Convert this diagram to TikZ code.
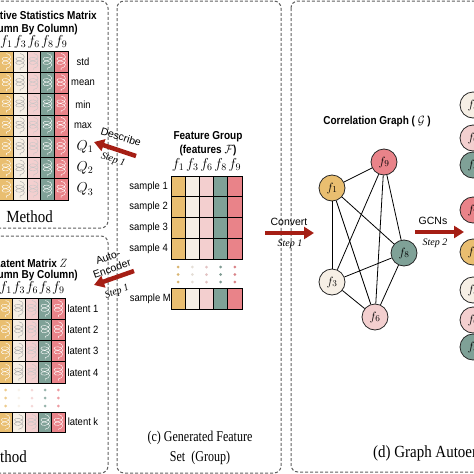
\documentclass[tikz,border=0pt]{standalone}
\usepackage{fontspec}
\setmainfont{Liberation Serif}
\setsansfont{Liberation Sans}
\usetikzlibrary{arrows.meta,decorations.pathmorphing}

\definecolor{fyellow}{RGB}{233,190,112}
\definecolor{fcream}{RGB}{246,239,229}
\definecolor{fpink}{RGB}{243,207,207}
\definecolor{fteal}{RGB}{127,161,151}
\definecolor{fred}{RGB}{233,131,137}
\definecolor{arrowred}{RGB}{165,30,20}
\definecolor{boxgray}{RGB}{95,95,95}

\tikzset{
	panel/.style={draw=boxgray, dash pattern=on 3pt off 2pt, line width=1pt, rounded corners=7pt},
	cell/.style={draw=black, line width=0.7pt},
	coilline/.style={decorate, decoration={coil, amplitude=4.3pt, segment length=3.8pt, aspect=0.6}, line width=0.4pt},
	bigarrow/.style={draw=arrowred, line width=4.5pt, -{Triangle[length=10pt, width=12pt]}},
	gnode/.style={draw=black!85, circle, line width=0.8pt, minimum size=26pt, inner sep=0pt, font=\fontsize{13}{13}\selectfont},
	gedge/.style={draw=black, line width=0.8pt},
	title/.style={inner sep=0pt, xscale=0.87, font=\sffamily\bfseries\fontsize{11.5}{13}\selectfont},
	flabel/.style={inner sep=0pt, font=\fontsize{14}{14}\selectfont},
	rowlabel/.style={inner sep=0pt, xscale=0.9, font=\sffamily\fontsize{10.5}{11}\selectfont},
	steplabel/.style={inner sep=0pt, font=\itshape\fontsize{10}{11}\selectfont},
	arrowlabel/.style={inner sep=0pt, font=\sffamily\fontsize{10.5}{12}\selectfont},
	caption/.style={inner sep=0pt, xscale=0.88, font=\fontsize{17}{20}\selectfont}
}

\begin{document}
\begin{tikzpicture}[x=1pt, y=-1pt]
	\useasboundingbox (0,0) rectangle (474,474);
	\clip (0,0) rectangle (474,474);
	
	%Dashed panels
	\draw[panel] (-20,1) rectangle (108,228);
	\draw[panel] (-20,236) rectangle (108,473);
	\draw[panel] (117,1) rectangle (281,473);
	\draw[panel] (291,1) rectangle (500,472);
	
	%First block: statistics matrix
	\node[title] (Stats Title) at (30,17) {Descriptive Statistics Matrix};
	\node[title] (Stats Sub) at (28,30) {(Column By Column)};
	\foreach \c/\col/\sq in {0/fyellow/white,1/fcream/gray!70,2/fpink/gray!45,3/fteal/white,4/fred/white}{
		\foreach \r in {0,...,6}{
			\filldraw[cell, fill=\col] ({-0.5+13.7*\c},{51+21.3*\r}) rectangle ++(13.7,21.3);
			\draw[coilline, \sq] ({6.35+13.7*\c},{53.5+21.3*\r}) -- ++(0,16.3);
		}
	}
	\foreach \c/\f in {0/1,1/3,2/6,3/8,4/9}
		\node[flabel] (Stats f\f) at ({6.35+13.7*\c},42) {$f_{\f}$};
	\foreach \r/\t in {0/std,1/mean,2/min,3/max}
		\node[rowlabel] (Stats Row \r) at (83,{61.65+21.3*\r}) {\t};
	\foreach \r/\t in {4/1,5/2,6/3}
		\node[flabel] (Stats Row \r) at (85,{61.65+21.3*\r}) {$Q_{\t}$};
	\node[caption, anchor=east] (Stats Caption) at (53,217) {Method};
	
	%Second block: latent matrix
	\node[title] (Latent Title) at (31,263) {Latent Matrix $Z$};
	\node[title] (Latent Sub) at (28,276) {(Column By Column)};
	\foreach \c/\col/\sq in {0/fyellow/white,1/fcream/gray!70,2/fpink/gray!45,3/fteal/white,4/fred/white}{
		\foreach \r in {0,...,3}{
			\filldraw[cell, fill=\col] ({-1+13.2*\c},{298+21.25*\r}) rectangle ++(13.2,21.25);
			\draw[coilline, \sq] ({5.6+13.2*\c},{300.5+21.25*\r}) -- ++(0,16.25);
		}
		\filldraw[cell, fill=\col] ({-1+13.2*\c},412) rectangle ++(13.2,20);
		\draw[coilline, \sq] ({5.6+13.2*\c},414.5) -- ++(0,15);
		\foreach \y in {390,398,406}
			\fill[\col!80!white] ({5.6+13.2*\c},\y) circle (1.5);
	}
	\foreach \c/\f in {0/1,1/3,2/6,3/8,4/9}
		\node[flabel] (Latent f\f) at ({5.6+13.2*\c},288) {$f_{\f}$};
	\foreach \r in {1,...,4}
		\node[rowlabel] (Latent Row \r) at (83,{287.4+21.25*\r}) {latent \r};
	\node[rowlabel] (Latent Row k) at (83,422) {latent k};
	\node[caption, anchor=east] (Latent Caption) at (27,457) {Method};
	
	%Third block: feature group
	\node[title] (Group Title) at (208,137) {Feature Group};
	\node[title] (Group Sub) at (208,151) {(features $\mathcal{F}$)};
	\foreach \c/\col in {0/fyellow,1/fcream,2/fpink,3/fteal,4/fred}{
		\foreach \r in {0,...,3}
			\filldraw[cell, fill=\col] ({171+14.2*\c},{176+20.75*\r}) rectangle ++(14.2,20.75);
		\filldraw[cell, fill=\col] ({171+14.2*\c},288) rectangle ++(14.2,21);
		\foreach \y in {267,274.5,282}
			\fill[\col!85!gray] ({178.1+14.2*\c},\y) circle (1.5);
	}
	\foreach \c/\f in {0/1,1/3,2/6,3/8,4/9}
		\node[flabel] (Group f\f) at ({178.1+14.2*\c},165) {$f_{\f}$};
	\foreach \r in {1,...,4}
		\node[rowlabel, anchor=east] (Sample \r) at (168,{165.6+20.75*\r}) {sample \r};
	\node[rowlabel, anchor=east] (Sample M) at (171,298.5) {sample M};
	\node[caption, align=center, xscale=0.91, font=\fontsize{15}{20}\selectfont] (Group Caption) at (200,448) {(c) Generated Feature\\Set~~(Group)};
	
	%Fourth block: correlation graph
	\node[title] (Graph Title) at (377,122) {Correlation Graph ( $\mathcal{G}$ )};
	\node[gnode, fill=fred] (f9) at (384,162) {$f_9$};
	\node[gnode, fill=fyellow] (f1) at (332,188) {$f_1$};
	\node[gnode, fill=fteal] (f8) at (404,253) {$f_8$};
	\node[gnode, fill=fcream] (f3) at (332,282) {$f_3$};
	\node[gnode, fill=fpink] (f6) at (375,317) {$f_6$};
	\draw[gedge] (f1) -- (f9);
	\draw[gedge] (f1) -- (f3);
	\draw[gedge] (f1) -- (f6);
	\draw[gedge] (f1) -- (f8);
	\draw[gedge] (f9) -- (f3);
	\draw[gedge] (f9) -- (f6);
	\draw[gedge] (f9) -- (f8);
	\draw[gedge] (f8) -- (f3);
	\draw[gedge] (f8) -- (f6);
	\draw[gedge] (f3) -- (f6);
	\node[caption, anchor=west] (Graph Caption) at (373,453) {(d) Graph Autoencoder};
	
	%Encoded nodes on the right
	\node[gnode, fill=fcream] (Out 1) at (473,105) {$f_3$};
	\node[gnode, fill=fpink] (Out 2) at (473,138) {$f_6$};
	\node[gnode, fill=fteal] (Out 3) at (473,165) {$f_8$};
	\node[gnode, fill=fred] (Out 4) at (473,210) {$f_9$};
	\node[gnode, fill=fyellow] (Out 5) at (473,252) {$f_1$};
	\node[gnode, fill=fcream] (Out 6) at (473,290) {$f_3$};
	\node[gnode, fill=fpink] (Out 7) at (473,320) {$f_6$};
	\node[gnode, fill=fteal] (Out 8) at (473,347) {$f_8$};
	
	%Arrows
	\coordinate (Describe Tail) at (136,156);
	\coordinate (Describe Head) at (94,142);
	\draw[bigarrow] (Describe Tail) -- (Describe Head);
	\node[arrowlabel, rotate=-17] (Describe) at (121,137) {Describe};
	\node[steplabel, rotate=-17] (Describe Step) at (113,160) {Step 1};
	
	\coordinate (Encoder Tail) at (134,271);
	\coordinate (Encoder Head) at (94,285);
	\draw[bigarrow] (Encoder Tail) -- (Encoder Head);
	\node[arrowlabel, rotate=19, align=center, font=\sffamily\fontsize{10.5}{12}\selectfont] (Encoder) at (110,263) {Auto-\\Encoder};
	\node[steplabel, rotate=19] (Encoder Step) at (117,292) {Step 1};
	
	\coordinate (Convert Tail) at (265,233);
	\coordinate (Convert Head) at (314,233);
	\draw[bigarrow] (Convert Tail) -- (Convert Head);
	\node[arrowlabel] (Convert) at (289,222) {Convert};
	\node[steplabel] (Convert Step) at (290,244) {Step 1};
	
	\coordinate (GCN Tail) at (415,232);
	\coordinate (GCN Head) at (464,232);
	\draw[bigarrow] (GCN Tail) -- (GCN Head);
	\node[arrowlabel] (GCNs) at (433,221) {GCNs};
	\node[steplabel] (GCN Step) at (435,243) {Step 2};
	
\end{tikzpicture}
\end{document}
